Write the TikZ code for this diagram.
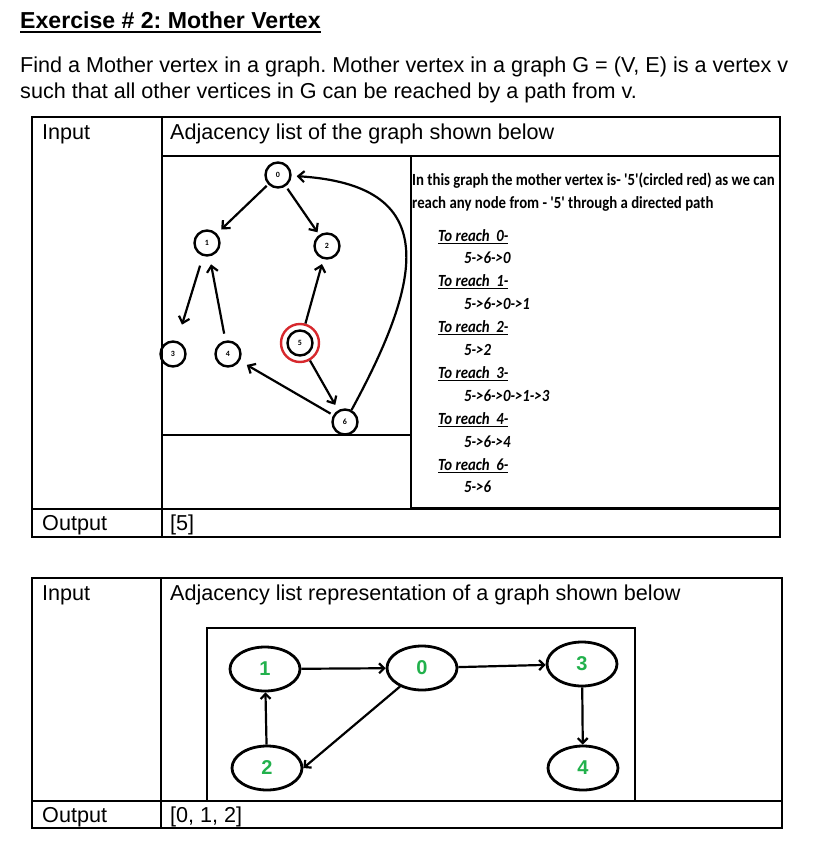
\documentclass[tikz,border=0pt]{standalone}
\usepackage{fontspec}
\setmainfont{Liberation Sans}
\newfontfamily\calfont{Carlito}
\usetikzlibrary{arrows.meta,shapes.geometric}
\definecolor{nodegreen}{RGB}{34,177,76}
\definecolor{ringred}{RGB}{215,40,45}
\frenchspacing
\newcommand{\tallpanel}[1]{\scalebox{1}[1.15]{#1}}
\begin{document}
\begin{tikzpicture}[x=1pt,y=-1pt,
  body/.style={anchor=base west,inner sep=0pt,font=\fontsize{21.6}{24}\selectfont},
  panel/.style={anchor=base west,inner sep=0pt,font=\calfont\bfseries\fontsize{14.8}{16}\selectfont},
  reach/.style={anchor=base west,inner sep=0pt,font=\calfont\bfseries\itshape\fontsize{14.8}{16}\selectfont},
  tbl/.style={line width=1.3pt},
  thick box/.style={line width=2.2pt},
  vsmall/.style={circle,draw,line width=2.4pt,minimum size=25pt,inner sep=0pt,font=\calfont\bfseries\fontsize{8}{9}\selectfont},
  gedge/.style={line width=2.2pt,-{Straight Barb[length=6pt,width=11pt]}},
  ell/.style={ellipse,draw,line width=2.8pt,minimum width=70pt,minimum height=44pt,inner sep=0pt,text=nodegreen,font=\bfseries\fontsize{20}{22}\selectfont},
  bedge/.style={line width=2.2pt,-{Straight Barb[length=5pt,width=10pt]}}]
\useasboundingbox (0,0) rectangle (821,862);
\fill[white] (0,0) rectangle (821,862);

% heading and paragraph
\node[body,font=\bfseries\fontsize{23.1}{26}\selectfont] (title) at (20,28) {Exercise \# 2: Mother Vertex};
\draw[line width=2pt] ([yshift=-4pt]title.base west) -- ([yshift=-4pt]title.base east);
\node[body] (p1) at (20,72) {Find a Mother vertex in a graph. Mother vertex in a graph G = (V, E) is a vertex v};
\node[body] (p2) at (20,98) {such that all other vertices in G can be reached by a path from v.};

% table 1
\draw[tbl] (32,117) rectangle (780,537);
\draw[tbl] (162,117) -- (162,537);
\draw[tbl] (162,156) -- (780,156);
\draw[tbl] (32,509) -- (780,509);
\draw[thick box] (162,435) -- (411,435);
\draw[thick box] (411,156) -- (411,509);
\draw[line width=2.8pt] (780,157) -- (780,508) -- (411,508);
\node[body] (in1) at (42,139) {Input};
\node[body] (adj1) at (170,139) {Adjacency list of the graph shown below};
\node[body] (out1) at (42,530) {Output};
\node[body] (res1) at (170,530) {[5]};

% graph 1
\node[vsmall] (n0) at (278,175) {0};
\node[vsmall] (n1) at (207,243) {1};
\node[vsmall] (n2) at (327,246) {2};
\node[vsmall] (n3) at (173,354) {3};
\node[vsmall] (n4) at (228,354) {4};
\node[vsmall] (n5) at (300,343) {5};
\node[vsmall] (n6) at (345,422) {6};
\node[circle,draw=ringred,line width=2.4pt,minimum size=38pt,inner sep=0pt] (ring5) at (n5) {};
\draw[gedge,shorten >=6pt,shorten <=2pt] (n0) -- (n1);
\draw[gedge,shorten >=3pt,shorten <=3pt] (n0) -- (n2);
\draw[gedge,shorten >=17pt,shorten <=10pt] (n1) -- (n3);
\draw[gedge,shorten >=8pt,shorten <=7pt] (n4) -- (n1);
\draw[gedge,shorten >=5pt] (ring5) -- (n2);
\draw[gedge,shorten >=6pt] (ring5) -- (n6);
\draw[gedge,shorten >=8pt,shorten <=3pt] (n6) -- (n4);
\draw[gedge,shorten >=5pt] (n6) .. controls (425,275) and (440,185) .. (n0);

% text panel
\node[panel] (t1) at (412,185) {\tallpanel{In this graph the mother vertex is- '5'(circled red) as we can}};
\node[panel] (t2) at (412,208) {\tallpanel{reach any node from - '5' through a directed path}};
\node[reach] (r0) at (438,241) {\tallpanel{\underline{To reach\ \ 0-}}};
\node[reach] (s0) at (464,263.9) {\tallpanel{5->6->0}};
\node[reach] (r1) at (438,286.8) {\tallpanel{\underline{To reach\ \ 1-}}};
\node[reach] (s1) at (464,309.7) {\tallpanel{5->6->0->1}};
\node[reach] (r2) at (438,332.6) {\tallpanel{\underline{To reach\ \ 2-}}};
\node[reach] (s2) at (464,355.5) {\tallpanel{5->2}};
\node[reach] (r3) at (438,378.4) {\tallpanel{\underline{To reach\ \ 3-}}};
\node[reach] (s3) at (464,401.3) {\tallpanel{5->6->0->1->3}};
\node[reach] (r4) at (438,424.2) {\tallpanel{\underline{To reach\ \ 4-}}};
\node[reach] (s4) at (464,447.1) {\tallpanel{5->6->4}};
\node[reach] (r6) at (438,470) {\tallpanel{\underline{To reach\ \ 6-}}};
\node[reach] (s6) at (464,492.9) {\tallpanel{5->6}};

% table 2
\draw[tbl] (32,578) rectangle (782,828);
\draw[tbl] (161,578) -- (161,828);
\draw[tbl] (32,801) -- (782,801);
\draw[line width=2pt] (207,801) -- (207,628) -- (635,628) -- (635,801);
\node[body] (in2) at (42,600) {Input};
\node[body] (adj2) at (170,600) {Adjacency list representation of a graph shown below};
\node[body] (out2) at (42,822) {Output};
\node[body] (res2) at (170,822) {[0, 1, 2]};

% graph 2
\node[ell] (e1) at (265,669) {1};
\node[ell] (e0) at (422,668) {0};
\node[ell] (e3) at (582,664) {3};
\node[ell] (e2) at (267,768) {2};
\node[ell] (e4) at (583,768) {4};
\draw[bedge] (e1) -- (e0);
\draw[bedge] (e0) -- (e3);
\draw[bedge] (e3) -- (e4);
\draw[bedge] (e2) -- (e1);
\draw[bedge] (e0) -- (e2.east);
\end{tikzpicture}
\end{document}
